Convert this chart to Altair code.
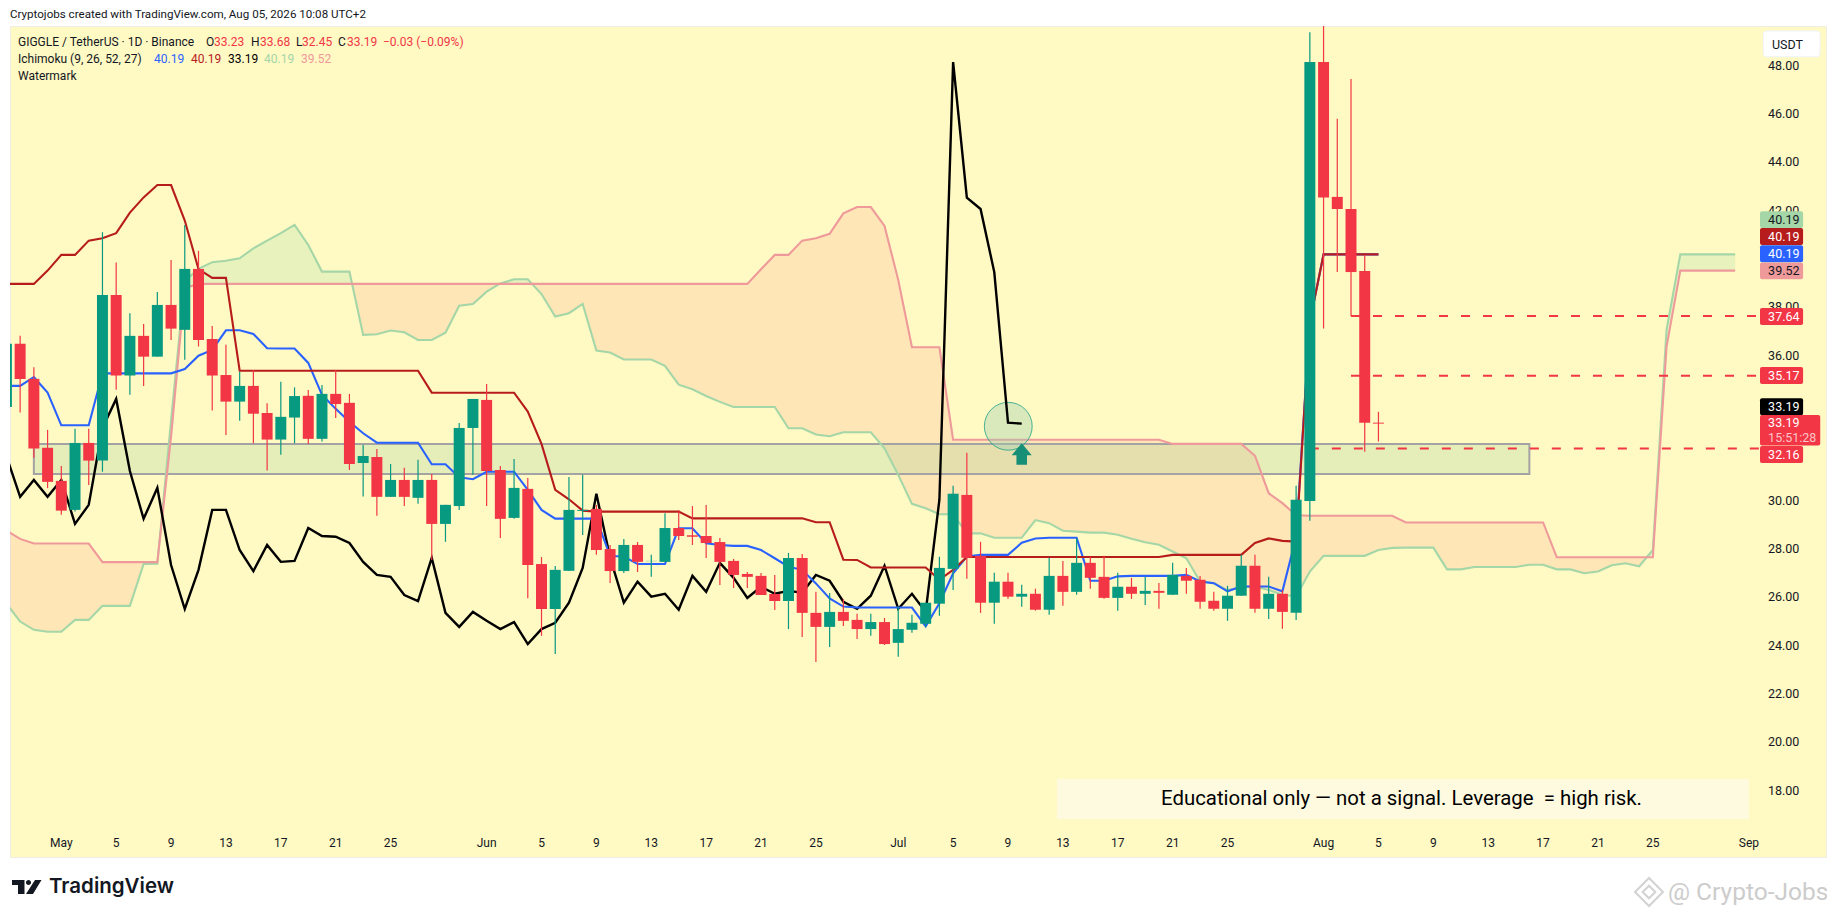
import altair as alt
import pandas as pd

# ---- data (day index: 0 = 1 May, prices in USDT) ----
first_day = -4
opens = [33.88,36.49,35.04,32.19,30.82,29.62,32.39,31.66,38.51,35.18,36.82,35.96,38.1,37.07,39.59,36.69,35.2,34.1,34.75,33.63,32.53,33.44,34.34,32.56,34.42,34.05,31.56,31.81,30.16,30.86,30.12,30.86,29.04,29.78,33.01,34.17,31.27,29.29,30.49,27.38,25.52,27.1,29.58,29.66,28.0,27.09,28.17,27.5,27.47,28.87,28.57,28.54,28.29,27.51,26.97,26.89,26.14,25.85,27.63,25.36,24.78,25.4,25.07,24.69,24.98,24.12,24.66,24.91,25.74,27.18,30.24,27.72,25.78,26.65,26.03,26.15,25.49,26.89,26.23,27.43,26.85,25.98,26.44,26.15,26.27,26.11,26.89,26.73,25.86,25.53,26.07,27.31,25.53,26.15,25.36,29.99,48.15,42.57,42.07,39.5,33.23]
highs = [36.49,36.82,35.52,32.93,31.44,32.98,32.98,41.11,39.86,37.76,37.31,38.64,39.96,41.41,40.34,37.23,36.45,35.34,35.41,34.03,34.92,34.69,34.58,34.79,35.41,34.42,32.31,32.14,31.52,31.36,31.69,31.11,29.83,33.22,34.21,34.83,31.44,31.73,30.94,27.67,27.3,30.98,31.07,29.82,28.17,28.42,28.29,27.76,29.48,29.62,29.78,29.82,28.46,27.59,27.05,27.01,26.93,27.84,27.8,26.23,26.18,25.92,25.32,25.32,25.15,25.62,25.28,25.78,27.68,30.62,31.98,28.3,27.02,27.02,26.52,26.36,27.64,27.51,28.45,27.67,27.72,27.02,26.81,26.85,26.6,27.43,27.22,26.89,26.23,26.48,27.76,27.76,26.85,26.3,30.62,49.38,50.0,45.8,47.45,40.17,33.68]
lows = [33.88,33.65,31.78,30.52,29.42,29.55,30.65,31.2,34.59,34.38,34.75,35.96,36.65,35.83,36.38,33.73,32.72,33.31,32.38,31.25,31.9,32.38,32.35,32.45,33.42,31.27,30.17,29.38,30.16,29.78,29.87,27.55,28.3,29.62,31.07,29.78,28.46,29.25,25.97,24.41,23.66,27.1,28.58,27.76,26.6,27.01,27.05,26.85,27.47,28.38,28.17,27.63,26.51,26.39,26.39,26.1,25.48,24.69,24.36,23.33,23.95,24.82,24.28,24.41,24.03,23.54,24.54,24.78,25.24,26.31,26.77,25.36,24.91,25.94,25.61,25.45,25.28,25.65,26.11,26.36,25.94,25.45,25.94,25.69,25.53,26.11,26.15,25.53,25.45,25.03,26.07,25.36,25.11,24.7,25.07,29.17,37.12,39.46,37.64,32.03,32.45]
closes = [36.49,35.04,32.16,30.78,29.59,32.39,31.66,38.51,35.18,36.82,35.96,38.1,37.12,39.59,36.65,35.18,34.1,34.75,33.6,32.53,33.47,34.33,32.56,34.42,34.0,31.52,31.85,30.16,30.86,30.16,30.86,29.04,29.83,33.01,34.21,31.23,29.25,30.53,27.34,25.52,27.14,29.62,29.62,27.96,27.09,28.17,27.47,27.51,28.87,28.54,28.51,28.25,27.47,26.93,26.85,26.1,25.85,27.63,25.36,24.78,25.4,25.03,24.69,24.98,24.07,24.69,24.95,25.78,27.22,30.29,27.64,25.78,26.65,26.03,26.15,25.49,26.89,26.23,27.43,26.81,25.98,26.44,26.15,26.27,26.19,26.93,26.69,25.82,25.53,26.07,27.31,25.53,26.15,25.4,30.04,48.15,42.54,42.07,39.46,33.23,33.19]
tenkan = [34.75,34.75,35.11,34.47,33.12,33.12,33.12,35.27,35.27,35.27,35.27,35.27,35.27,35.45,36.0,36.24,37.05,37.05,36.9,36.31,36.3,36.3,35.7,34.38,33.8,33.27,32.79,32.4,32.4,32.4,32.4,31.51,31.51,30.97,30.89,31.2,31.2,31.2,30.45,29.62,29.26,29.26,29.26,29.26,27.71,27.69,27.38,27.38,27.38,28.86,28.86,28.24,28.17,28.13,28.13,27.96,27.62,27.27,27.14,26.58,25.96,25.62,25.58,25.58,25.58,25.58,25.58,24.8,25.76,27.0,27.69,27.76,27.76,27.76,28.26,28.44,28.47,28.47,28.47,26.69,26.69,26.87,26.89,26.89,26.89,26.89,26.93,26.66,26.59,26.25,26.45,26.45,26.45,26.25,28.5,37.4,40.19,40.19,40.19,40.19,40.19]
kijun = [38.97,38.97,38.97,39.52,40.17,40.17,40.76,40.86,41.07,41.92,42.55,43.06,43.06,41.59,39.58,39.22,39.22,35.38,35.38,35.38,35.38,35.38,35.38,35.38,35.38,35.38,35.38,35.38,35.38,35.38,35.38,34.47,34.47,34.47,34.47,34.47,34.47,34.47,33.69,32.35,30.45,30.06,29.59,29.55,29.55,29.55,29.55,29.55,29.55,29.55,29.27,29.27,29.27,29.27,29.27,29.27,29.27,29.27,29.27,29.11,29.11,27.56,27.55,27.24,27.24,27.24,27.24,27.24,26.73,27.14,27.67,27.67,27.67,27.67,27.67,27.67,27.67,27.67,27.67,27.67,27.67,27.67,27.67,27.67,27.67,27.76,27.76,27.76,27.76,27.76,27.76,28.25,28.44,28.34,28.31,37.4,40.19,40.19,40.19,40.19,40.19]
chikou = [31.85,30.16,30.86,30.16,30.86,29.04,29.83,33.01,34.21,31.23,29.25,30.53,27.34,25.52,27.14,29.62,29.62,27.96,27.09,28.17,27.47,27.51,28.87,28.54,28.51,28.25,27.47,26.93,26.85,26.1,25.85,27.63,25.36,24.78,25.4,25.03,24.69,24.98,24.07,24.69,24.95,25.78,27.22,30.29,27.64,25.78,26.65,26.03,26.15,25.49,26.89,26.23,27.43,26.81,25.98,26.44,26.15,26.27,26.19,26.93,26.69,25.82,25.53,26.07,27.31,25.53,26.15,25.4,30.04,48.15,42.54,42.07,39.46,33.23,33.19]
span_a = [25.75,25.0,24.66,24.58,24.58,25.07,25.07,25.65,25.65,25.65,27.38,27.39,33.3,39.1,39.59,39.87,39.93,40.03,40.44,40.76,41.07,41.41,40.58,39.48,39.48,39.48,36.86,36.89,37.04,36.97,36.65,36.65,36.95,38.07,38.14,38.65,38.99,39.16,39.16,38.55,37.62,37.76,38.14,36.21,36.13,35.84,35.84,35.84,35.58,34.8,34.61,34.33,34.09,33.88,33.88,33.88,33.88,33.0,33.0,32.74,32.67,32.83,32.83,32.83,32.17,31.07,29.87,29.69,29.44,29.44,28.65,28.65,28.47,28.47,28.47,29.2,29.07,28.76,28.72,28.68,28.68,28.59,28.43,28.28,28.18,27.9,27.62,26.66,26.59,26.3,26.42,26.45,26.31,26.11,26.04,27.07,27.72,27.72,27.72,27.72,27.96,28.05,28.06,28.06,28.06,27.16,27.16,27.26,27.26,27.26,27.26,27.35,27.35,27.16,27.16,27.0,27.07,27.33,27.41,27.29,27.96,37.07,40.19,40.19,40.19,40.19,40.19]
span_b = [28.77,28.42,28.23,28.23,28.23,28.23,28.23,27.46,27.46,27.46,27.46,27.46,32.65,38.8,38.97,38.97,38.97,38.97,38.97,38.97,38.97,38.97,38.97,38.97,38.97,38.97,38.97,38.97,38.97,38.97,38.97,38.97,38.97,38.97,38.97,38.97,38.97,38.97,38.97,38.97,38.97,38.97,38.97,38.97,38.97,38.97,38.97,38.97,38.97,38.97,38.97,38.97,38.97,38.97,38.97,39.58,40.17,40.17,40.76,40.86,41.04,41.89,42.15,42.15,41.37,39.13,36.35,36.35,36.35,32.52,32.52,32.52,32.52,32.52,32.52,32.52,32.52,32.52,32.52,32.52,32.52,32.52,32.52,32.52,32.52,32.35,32.35,32.35,32.35,32.35,32.35,31.86,30.31,29.9,29.4,29.38,29.38,29.38,29.38,29.38,29.38,29.38,29.1,29.1,29.1,29.1,29.1,29.1,29.1,29.1,29.1,29.1,29.1,27.66,27.66,27.66,27.66,27.66,27.66,27.66,27.66,36.38,39.52,39.52,39.52,39.52,39.52]
price_ticks = [18,20,22,24,26,28,30,36,38,42,44,46,48]
date_tick_days = [0,4,8,12,16,20,24,31,35,39,43,47,51,55,61,65,69,73,77,81,85,92,96,100,104,108,112,116,123]
date_tick_labels = ["May","5","9","13","17","21","25","Jun","5","9","13","17","21","25","Jul","5","9","13","17","21","25","Aug","5","9","13","17","21","25","Sep"]
level_prices = [37.64,35.17,32.16]
level_starts = [94,94,91]
tag_texts = ["40.19","40.19","40.19","39.52","37.64","35.17","33.19","32.16"]
tag_prices = [41.63,40.93,40.22,39.51,37.62,35.18,33.89,31.91]
tag_fills = ["#A5D6A7","#B71C1C","#2962FF","#EF9A9A","#F23645","#F23645","#000000","#F23645"]
tag_inks = ["#131722","#FFFFFF","#FFFFFF","#131722","#FFFFFF","#FFFFFF","#FFFFFF","#FFFFFF"]

UP, DOWN = "#089981", "#F23645"
INK = "#131722"
PANEL = "#FFF9C4"
FONT = "Roboto"

XS = alt.Scale(domain=[-3.739, 128.62], nice=False, zero=False)
YS = alt.Scale(domain=[15.26, 49.64], nice=False, zero=False)


def X(f):
    return alt.X(f, type="quantitative", scale=XS, title=None, axis=None)


def Y(f):
    return alt.Y(f, type="quantitative", scale=YS, title=None, axis=None)


def X2(f):
    return alt.X2(f)


def Y2(f):
    return alt.Y2(f)


# ---- tables ----
n = len(opens)
days = [first_day + i for i in range(n)]
candles = pd.DataFrame({"d": days, "o": opens, "h": highs, "l": lows, "c": closes})
candles["h"] = candles["h"].clip(upper=49.64)
candles["dir"] = ["up" if c >= o else "down" for o, c in zip(opens, closes)]
candles["a"] = candles["d"] - 0.4
candles["b"] = candles["d"] + 0.4
color = alt.Color("dir:N", scale=alt.Scale(domain=["up", "down"], range=[UP, DOWN]), legend=None)

# cloud with the crossings of the two spans added, so each colour tapers where they meet
cl = []
for i in range(len(span_a)):
    d = first_day + i
    cl.append((d, span_a[i], span_b[i]))
    if i + 1 < len(span_a):
        s0 = span_a[i] - span_b[i]
        s1 = span_a[i + 1] - span_b[i + 1]
        if s0 * s1 < 0:
            t = s0 / (s0 - s1)
            cl.append((d + t, span_a[i] + t * (span_a[i + 1] - span_a[i]), span_b[i] + t * (span_b[i + 1] - span_b[i])))
cloud = pd.DataFrame(cl, columns=["d", "a", "b"])
cloud["top"] = cloud[["a", "b"]].max(axis=1)


def line(values, col, width=2.1):
    df = pd.DataFrame({"d": [first_day + i for i in range(len(values))], "v": values})
    return alt.Chart(df).mark_line(color=col, strokeWidth=width, clip=True, interpolate="linear").encode(x=X("d"), y=Y("v"))


def txt(text, px, py, col=INK, size=12, font=FONT, weight="normal", align="left"):
    return alt.Chart(pd.DataFrame({"t": [text]})).mark_text(
        color=col, fontSize=size, font=font, fontWeight=weight, align=align, baseline="middle"
    ).encode(x=alt.value(px - 10), y=alt.value(py - 26), text="t:N")


# ---- layers ----
price_labels = alt.Chart(pd.DataFrame({"p": price_ticks, "t": [f"{v:.2f}" for v in price_ticks]})).mark_text(
    align="left", baseline="middle", font=FONT, fontSize=12.5, color=INK
).encode(x=alt.value(1768 - 10), y=Y("p"), text="t:N")
date_labels = alt.Chart(pd.DataFrame({"d": date_tick_days, "t": date_tick_labels})).mark_text(
    align="center", baseline="middle", font=FONT, fontSize=12, color=INK
).encode(x=X("d"), y=alt.value(842.7 - 26), text="t:N")

cloud_green = alt.Chart(cloud).mark_area(color="#64C896", opacity=0.15, clip=True).encode(x=X("d"), y=Y("top"), y2=Y2("b"))
cloud_orange = alt.Chart(cloud).mark_area(color="#FF7864", opacity=0.145, clip=True).encode(x=X("d"), y=Y("top"), y2=Y2("a"))

zone = alt.Chart(pd.DataFrame({"x0": [-2], "x1": [107], "y0": [31.11], "y1": [32.35]})).mark_rect(
    fill="#96CD96", fillOpacity=0.25, stroke="#A3A3A3", strokeWidth=2, clip=True
).encode(x=X("x0"), x2=X2("x1"), y=Y("y0"), y2=Y2("y1"))

levels = alt.Chart(pd.DataFrame({"p": level_prices, "s": level_starts, "e": [123.8] * 3})).mark_rule(
    color=DOWN, strokeWidth=2, strokeDash=[9, 13], clip=True
).encode(x=X("s"), x2=X2("e"), y=Y("p"))

circle = alt.Chart(pd.DataFrame({"d": [69.02], "p": [33.08]})).mark_point(
    shape="circle", size=2290, filled=True, fill="#9CCFB0", fillOpacity=0.38, stroke="#089981", strokeWidth=0.8, strokeOpacity=0.9, opacity=1
).encode(x=X("d"), y=Y("p"))
arrow = alt.Chart(pd.DataFrame({"d": [70], "p": [31.94]})).mark_point(
    shape="M0,-0.97 L0.91,0.12 L0.48,0.12 L0.48,1 L-0.48,1 L-0.48,0.12 L-0.91,0.12 Z",
    size=484, filled=True, fill="#178F77", opacity=1, strokeWidth=0
).encode(x=X("d"), y=Y("p"))

wicks = alt.Chart(candles).mark_rule(strokeWidth=1.2, clip=True).encode(x=X("d"), y=Y("l"), y2=Y2("h"), color=color)
bodies = alt.Chart(candles).mark_rect(clip=True).encode(x=X("a"), x2=X2("b"), y=Y("o"), y2=Y2("c"), color=color)

tags = pd.DataFrame({"t": tag_texts, "p": tag_prices, "fill": tag_fills, "ink": tag_inks})
tags["y0"] = tags["p"] - 0.35
tags["y1"] = tags["p"] + 0.35
tags["x0"] = 123.81
tags["x1"] = 126.95
tags["xt"] = 124.4
tag_rects = alt.Chart(tags).mark_rect(cornerRadius=2).encode(
    x=X("x0"), x2=X2("x1"), y=Y("y0"), y2=Y2("y1"), fill=alt.Fill("fill:N", scale=None))
big_red = alt.Chart(pd.DataFrame({"x0": [123.81], "x1": [128.2], "y0": [32.28], "y1": [33.55]})).mark_rect(
    color=DOWN, cornerRadius=2).encode(x=X("x0"), x2=X2("x1"), y=Y("y0"), y2=Y2("y1"))
tag_text = alt.Chart(tags).mark_text(align="left", baseline="middle", font=FONT, fontSize=12.5).encode(
    x=X("xt"), y=Y("p"), text="t:N", color=alt.Color("ink:N", scale=None))
big_text = alt.Chart(pd.DataFrame({"x": [124.4, 124.4], "p": [33.21, 32.61], "t": ["33.19", "15:51:28"], "c": ["#FFFFFF", "#FBC4C8"]})).mark_text(
    align="left", baseline="middle", font=FONT, fontSize=12.5).encode(x=X("x"), y=Y("p"), text="t:N", color=alt.Color("c:N", scale=None))

usdt_box = alt.Chart(pd.DataFrame({"k": [0]})).mark_rect(fill="#FFFFFF", stroke="#F0F3FA", cornerRadius=3).encode(
    x=alt.value(1763.4 - 10), x2=alt.value(1820 - 10), y=alt.value(31 - 26), y2=alt.value(56.7 - 26))
edu_box = alt.Chart(pd.DataFrame({"k": [0]})).mark_rect(fill="#FEFAE0").encode(
    x=alt.value(1057 - 10), x2=alt.value(1749 - 10), y=alt.value(779 - 26), y2=alt.value(819 - 26))

logo = alt.Chart(pd.DataFrame({"k": [0]})).mark_point(
    shape="M-0.98,-0.467 H-0.147 V0.467 H-0.58 V-0.133 H-0.98 Z M-0.05,-0.3 A0.17,0.17 0 1,0 0.29,-0.3 A0.17,0.17 0 1,0 -0.05,-0.3 Z M0.553,-0.467 L0.987,-0.467 L0.42,0.467 L-0.047,0.467 Z",
    size=900, filled=True, fill=INK, opacity=1, strokeWidth=0
).encode(x=alt.value(26.7 - 10), y=alt.value(887 - 26))
wm_big = alt.Chart(pd.DataFrame({"k": [0]})).mark_point(shape="diamond", size=780, filled=False, stroke="#D2D2D2", strokeWidth=2, opacity=1).encode(
    x=alt.value(1649 - 10), y=alt.value(892 - 26))
wm_small = alt.Chart(pd.DataFrame({"k": [0]})).mark_point(shape="diamond", size=160, filled=False, stroke="#D2D2D2", strokeWidth=2, opacity=1).encode(
    x=alt.value(1649 - 10), y=alt.value(892 - 26))

texts = [
    txt("Cryptojobs created with TradingView.com, Aug 05, 2026 10:08 UTC+2", 10, 14.7, size=11.6),
    txt("GIGGLE / TetherUS · 1D · Binance", 18, 41.7),
    txt("O", 206, 41.7), txt("33.23", 214, 41.7, DOWN),
    txt("H", 251, 41.7), txt("33.68", 260, 41.7, DOWN),
    txt("L", 296, 41.7), txt("32.45", 302, 41.7, DOWN),
    txt("C", 338, 41.7), txt("33.19", 347, 41.7, DOWN),
    txt("−0.03 (−0.09%)", 383, 41.7, DOWN),
    txt("Ichimoku (9, 26, 52, 27)", 18, 59),
    txt("40.19", 154, 59, "#2962FF"), txt("40.19", 191, 59, "#B71C1C"), txt("33.19", 228, 59, "#000000"),
    txt("40.19", 264, 59, "#A5D6A7"), txt("39.52", 301, 59, "#EF9A9A"),
    txt("Watermark", 18, 76),
    txt("USDT", 1772, 44.7, size=12.5),
    txt("Educational only — not a signal. Leverage\u00a0 = high risk.", 1161, 799, "#000000", size=20.4),
    txt("TradingView", 49, 887, INK, size=20.5, font="Inter", weight=600),
    txt("@ Crypto-Jobs", 1668, 893, "#CCCCCC", size=24.5),
]

chart = alt.layer(
    price_labels, date_labels, cloud_green, cloud_orange, zone,
    line(span_a, "#A5D6A7"), line(span_b, "#EF9A9A"),
    levels, circle,
    line(chikou, "#000000", 2.4), line(tenkan, "#2962FF"), line(kijun, "#B71C1C"),
    arrow, wicks, bodies,
    tag_rects, big_red, tag_text, big_text, usdt_box, edu_box, logo, wm_big, wm_small, *texts,
).resolve_scale(color="independent", fill="independent").properties(
    width=1816, height=831, background="#FFFFFF",
    autosize=alt.AutoSizeParams(type="none"),
    padding={"left": 2, "top": 18, "right": 1, "bottom": 52},
).configure_view(fill=PANEL, stroke="#EEEEE6")

chart.save("out.html", embed_options={"renderer": "svg", "actions": False})
